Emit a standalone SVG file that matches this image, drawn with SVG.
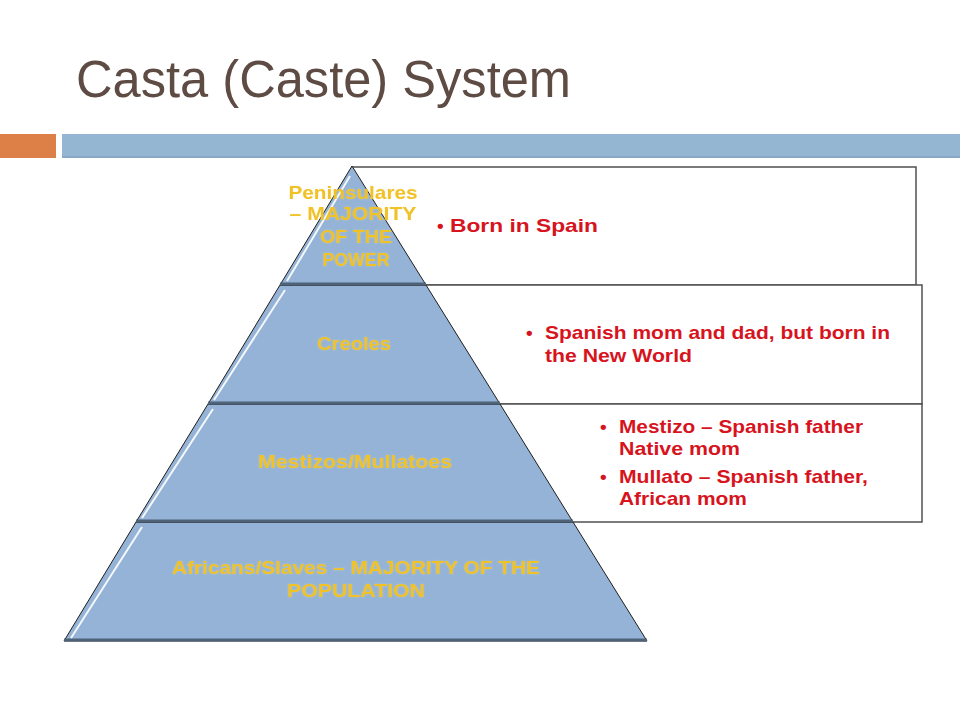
<svg xmlns="http://www.w3.org/2000/svg" width="960" height="720" viewBox="0 0 960 720">
<style>
.title{font-family:"Liberation Sans",Arial,sans-serif;font-size:51px;fill:#5d4b44}
.lvl{font-family:"Liberation Sans",Arial,sans-serif;font-weight:bold;font-size:19px;fill:#f0c228;text-anchor:middle}
.desc{font-family:"Liberation Sans",Arial,sans-serif;font-weight:bold;font-size:19px;fill:#d7141e}
.box{fill:#ffffff;stroke:#505050;stroke-width:1.5}
.seg{fill:#94b3d6;stroke:#1e1e1e;stroke-width:1}
.sep{stroke:#4f6378;stroke-width:3}
.hl{stroke:#ffffff;stroke-width:2;fill:none;opacity:0.9}
</style>
<defs>
<filter id="glow" x="-10%" y="-30%" width="120%" height="160%">
<feGaussianBlur in="SourceAlpha" stdDeviation="1.2" result="b"/>
<feFlood flood-color="#f6e6a0" flood-opacity="0.35"/>
<feComposite in2="b" operator="in" result="g"/>
<feMerge><feMergeNode in="g"/><feMergeNode in="SourceGraphic"/></feMerge>
</filter>
</defs>
<rect width="960" height="720" fill="#ffffff"/>
<text class="title" x="76" y="97" textLength="495" lengthAdjust="spacingAndGlyphs">Casta (Caste) System</text>
<rect x="0" y="134" width="56" height="24" fill="#dd8047"/>
<rect x="62" y="134" width="898" height="24" fill="#94b6d3"/>
<rect x="62" y="156" width="898" height="2" fill="#8aa8c8"/>

<g id="box-peninsulares">
<rect class="box" x="352" y="167" width="564" height="118"/>
<text class="desc" x="437" y="232">•</text>
<text class="desc" x="450" y="232" textLength="148" lengthAdjust="spacingAndGlyphs">Born in Spain</text>
</g>
<g id="box-creoles">
<rect class="box" x="355" y="285" width="567" height="119"/>
<text class="desc" x="526" y="339">•</text>
<text class="desc" x="545" y="339" textLength="345" lengthAdjust="spacingAndGlyphs">Spanish mom and dad, but born in</text>
<text class="desc" x="545" y="362" textLength="147" lengthAdjust="spacingAndGlyphs">the New World</text>
</g>
<g id="box-mestizos">
<rect class="box" x="355" y="404" width="567" height="118"/>
<text class="desc" x="600" y="433">•</text>
<text class="desc" x="619" y="433" textLength="244" lengthAdjust="spacingAndGlyphs">Mestizo – Spanish father</text>
<text class="desc" x="619" y="455" textLength="121" lengthAdjust="spacingAndGlyphs">Native mom</text>
<text class="desc" x="600" y="483">•</text>
<text class="desc" x="619" y="483" textLength="249" lengthAdjust="spacingAndGlyphs">Mullato – Spanish father,</text>
<text class="desc" x="619" y="505" textLength="128" lengthAdjust="spacingAndGlyphs">African mom</text>
</g>

<g id="level-africans">
<polygon class="seg" points="136,522 573,522 647,641 64,641"/>
<line class="sep" x1="64" y1="640" x2="647" y2="640"/>
<line class="hl" x1="142" y1="527" x2="71" y2="638"/>
<text class="lvl" x="356" y="574" textLength="368" lengthAdjust="spacingAndGlyphs" filter="url(#glow)">Africans/Slaves – MAJORITY OF THE</text>
<text class="lvl" x="356" y="597" textLength="138" lengthAdjust="spacingAndGlyphs" filter="url(#glow)">POPULATION</text>
</g>
<g id="level-mestizos">
<polygon class="seg" points="208,404 500,404 573,522 136,522"/>
<line class="sep" x1="136" y1="521" x2="573" y2="521"/>
<line class="hl" x1="213" y1="409" x2="142" y2="518"/>
<text class="lvl" x="355" y="468" textLength="194" lengthAdjust="spacingAndGlyphs" filter="url(#glow)">Mestizos/Mullatoes</text>
</g>
<g id="level-creoles">
<polygon class="seg" points="280,285 426,285 500,404 208,404"/>
<line class="sep" x1="208" y1="403" x2="500" y2="403"/>
<line class="hl" x1="285" y1="290" x2="214" y2="400"/>
<text class="lvl" x="354" y="350" textLength="74" lengthAdjust="spacingAndGlyphs" filter="url(#glow)">Creoles</text>
</g>
<g id="level-peninsulares">
<polygon class="seg" points="352,166 426,285 280,285"/>
<line class="sep" x1="280" y1="284" x2="426" y2="284"/>
<line class="hl" x1="350" y1="176" x2="287" y2="281"/>
<text class="lvl" x="353" y="199" textLength="129" lengthAdjust="spacingAndGlyphs" filter="url(#glow)">Peninsulares</text>
<text class="lvl" x="353" y="220" textLength="127" lengthAdjust="spacingAndGlyphs" filter="url(#glow)">– MAJORITY</text>
<text class="lvl" x="356" y="243" textLength="72" lengthAdjust="spacingAndGlyphs" filter="url(#glow)">OF THE</text>
<text class="lvl" x="356" y="266" textLength="67" lengthAdjust="spacingAndGlyphs" filter="url(#glow)">POWER</text>
</g>
<g id="connectors"></g>
</svg>
